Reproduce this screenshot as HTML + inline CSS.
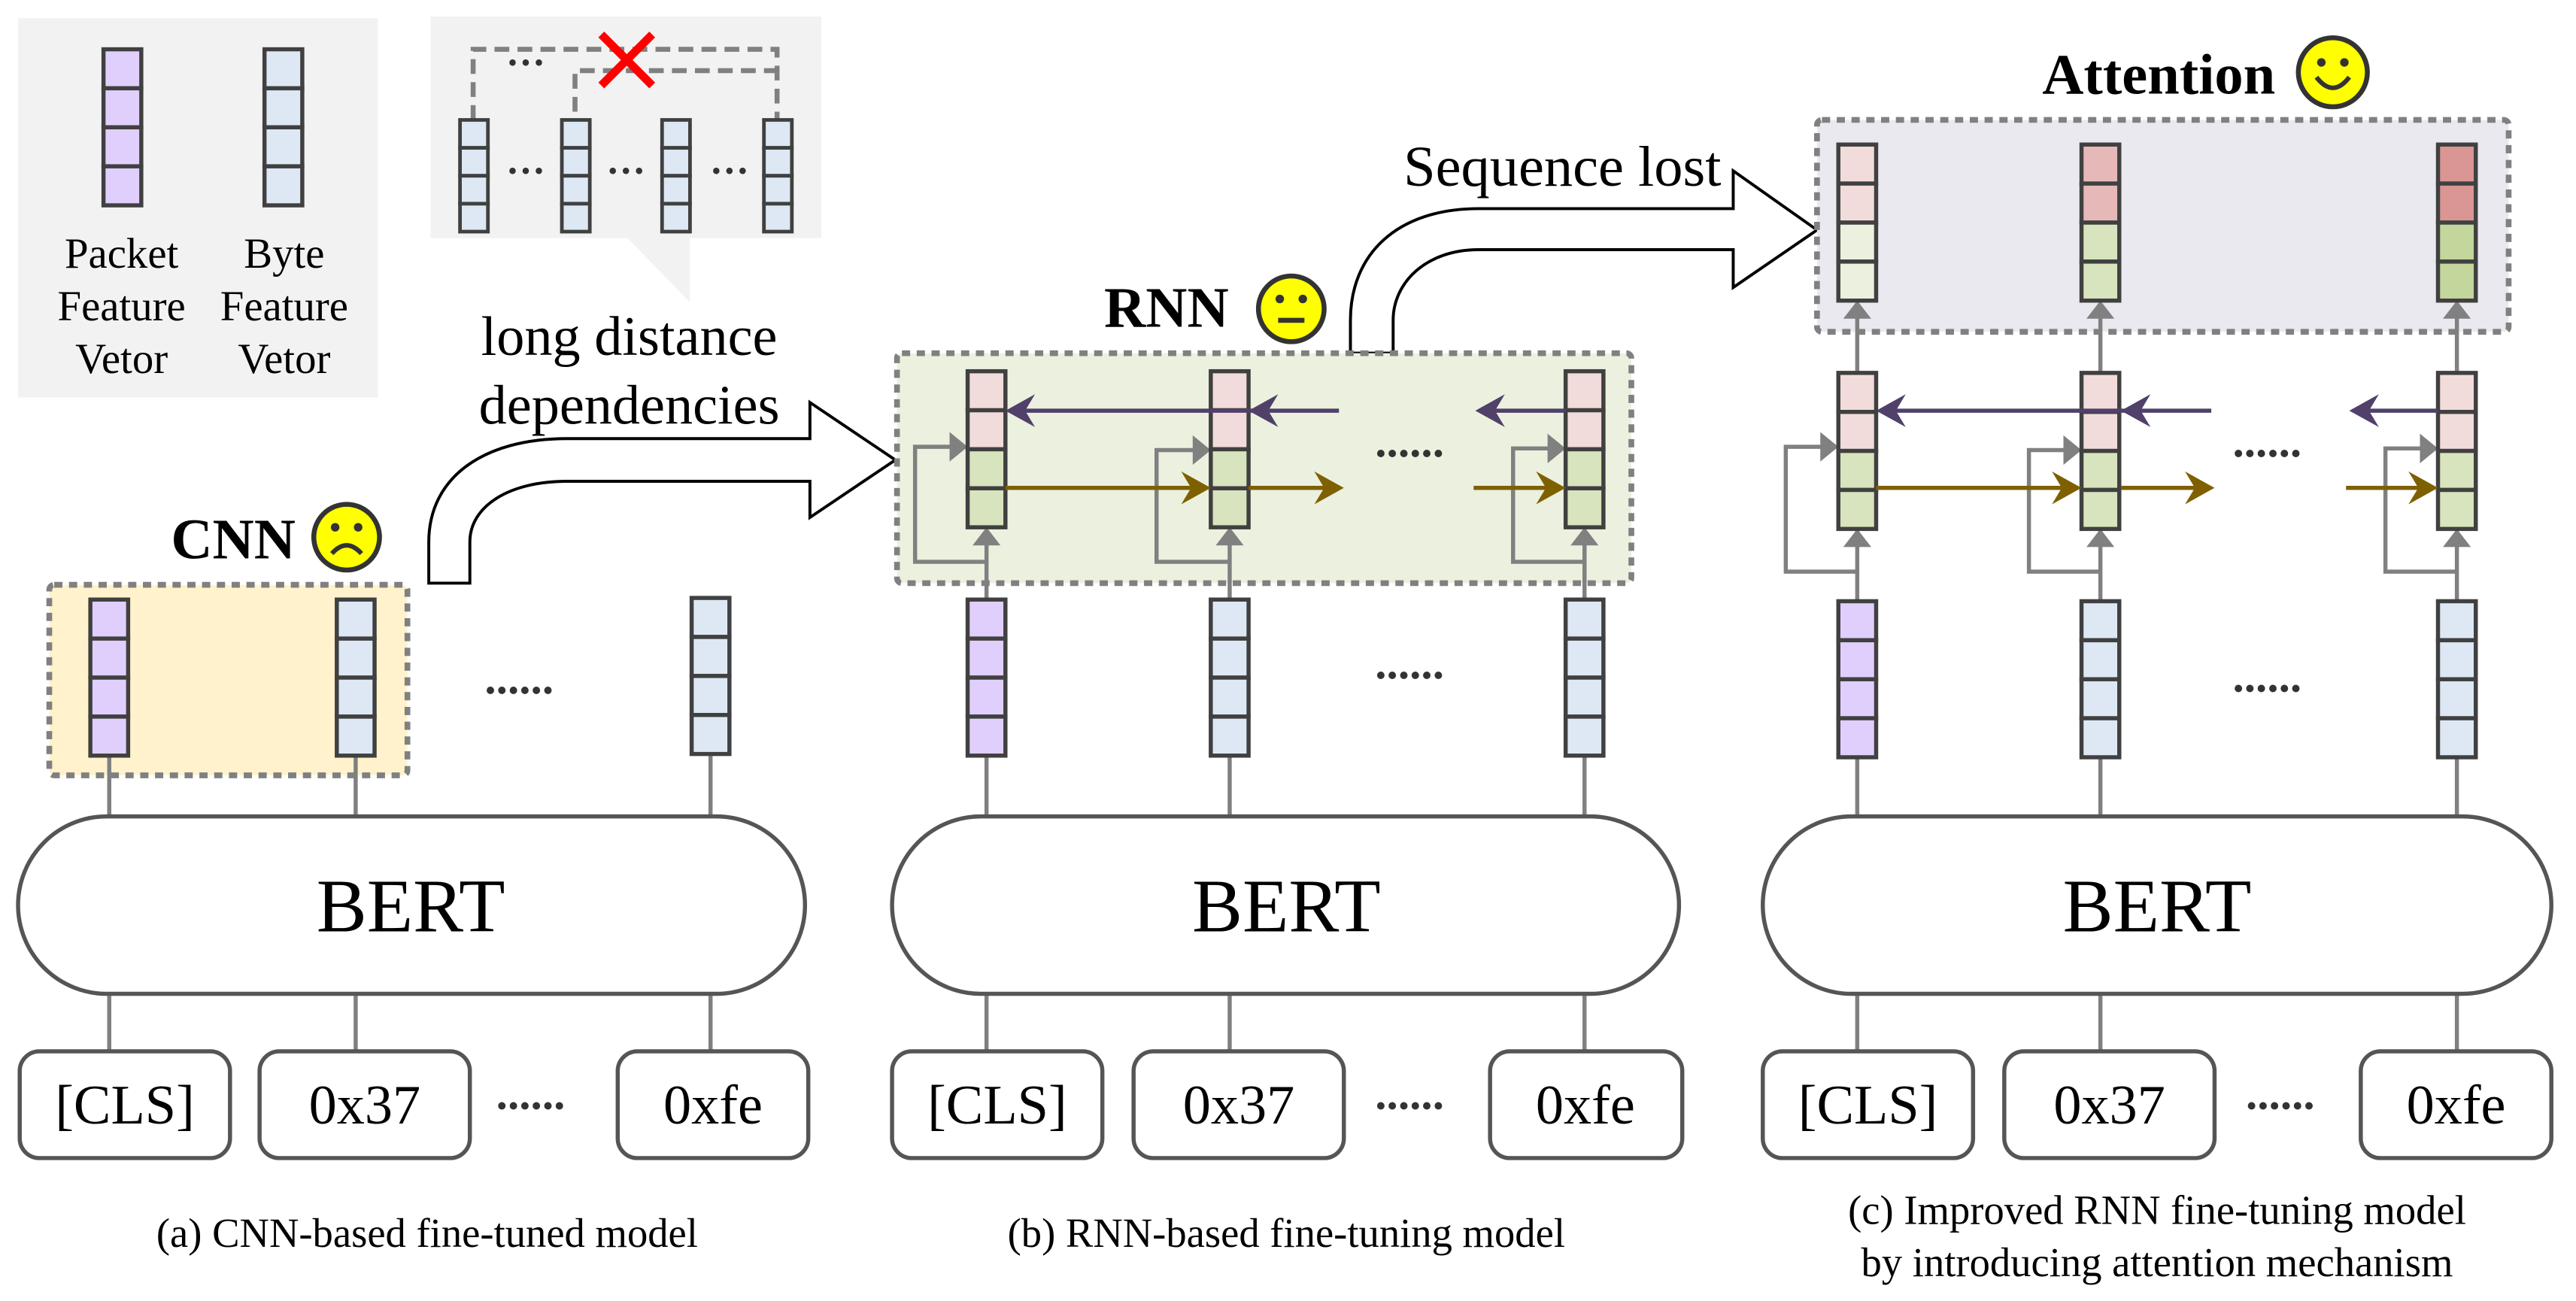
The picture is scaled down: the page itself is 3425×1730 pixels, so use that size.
<!DOCTYPE html>
<html><head><meta charset="utf-8"><style>html,body{margin:0;padding:0;background:#fff}svg{display:block}</style></head>
<body>
<svg width="3425" height="1730" viewBox="0 0 1568 792" xmlns="http://www.w3.org/2000/svg" font-family="'Liberation Serif', serif">
<defs>
<g id="pb"><rect x="0" y="0" width="23" height="23.75" fill="#e0cffc"/><rect x="0" y="23.75" width="23" height="23.75" fill="#e0cffc"/><rect x="0" y="47.5" width="23" height="23.75" fill="#e0cffc"/><rect x="0" y="71.25" width="23" height="23.75" fill="#e0cffc"/></g>
<g id="bb"><rect x="0" y="0" width="23" height="23.75" fill="#dde8f4"/><rect x="0" y="23.75" width="23" height="23.75" fill="#dde8f4"/><rect x="0" y="47.5" width="23" height="23.75" fill="#dde8f4"/><rect x="0" y="71.25" width="23" height="23.75" fill="#dde8f4"/></g>
<g id="rb"><rect x="0" y="0" width="23" height="23.75" fill="#f2dcdb"/><rect x="0" y="23.75" width="23" height="23.75" fill="#f2dcdb"/><rect x="0" y="47.5" width="23" height="23.75" fill="#d7e4bd"/><rect x="0" y="71.25" width="23" height="23.75" fill="#d7e4bd"/></g>
<g id="a1"><rect x="0" y="0" width="23" height="23.75" fill="#f2dcdb"/><rect x="0" y="23.75" width="23" height="23.75" fill="#f2dcdb"/><rect x="0" y="47.5" width="23" height="23.75" fill="#ebf1de"/><rect x="0" y="71.25" width="23" height="23.75" fill="#ebf1de"/></g>
<g id="a2"><rect x="0" y="0" width="23" height="23.75" fill="#e6b9b8"/><rect x="0" y="23.75" width="23" height="23.75" fill="#e6b9b8"/><rect x="0" y="47.5" width="23" height="23.75" fill="#d7e4bd"/><rect x="0" y="71.25" width="23" height="23.75" fill="#d7e4bd"/></g>
<g id="a3"><rect x="0" y="0" width="23" height="23.75" fill="#d99694"/><rect x="0" y="23.75" width="23" height="23.75" fill="#d99694"/><rect x="0" y="47.5" width="23" height="23.75" fill="#c3d69b"/><rect x="0" y="71.25" width="23" height="23.75" fill="#c3d69b"/></g>
<g id="sb"><rect x="0" y="0" width="17" height="17" fill="#dde8f4"/><rect x="0" y="17" width="17" height="17" fill="#dde8f4"/><rect x="0" y="34" width="17" height="17" fill="#dde8f4"/><rect x="0" y="51" width="17" height="17" fill="#dde8f4"/></g>
</defs>

<!-- Legend -->
<rect x="11" y="11" width="219" height="231" fill="#f2f2f2"/>
<g stroke="#404040" stroke-width="2.5"><use href="#pb" x="63" y="30"/><use href="#bb" x="161" y="30"/></g>
<g font-size="26" text-anchor="middle" fill="#000">
<text x="74" y="163">Packet</text><text x="74" y="195">Feature</text><text x="74" y="227">Vetor</text>
<text x="173" y="163">Byte</text><text x="173" y="195">Feature</text><text x="173" y="227">Vetor</text>
</g>

<!-- Callout -->
<rect x="262" y="10" width="238" height="135" fill="#f2f2f2"/>
<polygon points="381,144 420,144 420,184" fill="#f2f2f2"/>
<g stroke="#808080" stroke-width="3" fill="none" stroke-dasharray="9 5">
<path d="M288,73 V30 H473 V73"/>
<path d="M350,68 V43 H473"/>
</g>
<text x="320" y="46" font-size="24" font-weight="bold" text-anchor="middle" fill="#333">···</text>
<g stroke="#404040" stroke-width="2.2"><use href="#sb" x="280" y="73"/><use href="#sb" x="342" y="73"/><use href="#sb" x="403" y="73"/><use href="#sb" x="465" y="73"/></g>
<g font-size="24" font-weight="bold" text-anchor="middle" fill="#333"><text x="320" y="112">···</text><text x="381" y="112">···</text><text x="444" y="112">···</text></g>
<g stroke="#ff0000" stroke-width="5"><line x1="366" y1="21" x2="397" y2="52"/><line x1="397" y1="21" x2="366" y2="52"/></g>

<!-- long distance arrow -->
<text x="383" y="216" font-size="34" text-anchor="middle">long distance</text>
<text x="383" y="258" font-size="34" text-anchor="middle">dependencies</text>
<path d="M261,355 L261,330 C261,290 295,267 345,267 L493,267 L493,245 L545,280 L493,315 L493,293 L345,293 C310,293 286,308 286,330 L286,355 Z" fill="#fff" stroke="#000" stroke-width="1.8"/>

<!-- CNN -->
<text x="142" y="340" font-size="35" font-weight="bold" text-anchor="middle">CNN</text>
<circle cx="211" cy="327" r="20" fill="#ffff00" stroke="#333" stroke-width="3"/>
<circle cx="204" cy="321" r="2.6" fill="#333"/><circle cx="218" cy="321" r="2.6" fill="#333"/>
<path d="M202,337 Q211,327 220,337" fill="none" stroke="#333" stroke-width="2.8"/>
<rect x="30" y="356" width="218" height="116" rx="3" fill="#fff2cc" stroke="#808080" stroke-width="3.5" stroke-dasharray="5 4"/>

<!-- Sequence lost arrow -->
<text x="951" y="113" font-size="35" text-anchor="middle">Sequence lost</text>
<path d="M822,215 L822,195 C822,155 850,127 900,127 L1055,127 L1055,104 L1106,140 L1055,175 L1055,152 L900,152 C868,152 848,172 848,195 L848,215 Z" fill="#fff" stroke="#000" stroke-width="1.8"/>

<!-- RNN -->
<text x="710" y="199" font-size="35" font-weight="bold" text-anchor="middle">RNN</text>
<circle cx="786" cy="188" r="20" fill="#ffff00" stroke="#333" stroke-width="3"/>
<circle cx="779" cy="182" r="2.6" fill="#333"/><circle cx="793" cy="182" r="2.6" fill="#333"/>
<line x1="778" y1="195" x2="794" y2="195" stroke="#333" stroke-width="3"/>
<rect x="546" y="215" width="447" height="140" rx="3" fill="#ebf1de" stroke="#808080" stroke-width="3.5" stroke-dasharray="5 4"/>

<!-- Attention -->
<text x="1314" y="57" font-size="35" font-weight="bold" text-anchor="middle">Attention</text>
<circle cx="1420" cy="44" r="21" fill="#ffff00" stroke="#333" stroke-width="3"/>
<circle cx="1413" cy="38" r="2.6" fill="#333"/><circle cx="1427" cy="38" r="2.6" fill="#333"/>
<path d="M1410,47 Q1420,60 1430,47" fill="none" stroke="#333" stroke-width="2.8"/>
<rect x="1106" y="73" width="421" height="129" rx="3" fill="#ebe9f0" stroke="#808080" stroke-width="3.5" stroke-dasharray="5 4"/>

<!-- gray stems -->
<g stroke="#808080" stroke-width="2.5" fill="none">
<line x1="66.5" y1="460" x2="66.5" y2="497"/><line x1="216.5" y1="460" x2="216.5" y2="497"/><line x1="432.5" y1="458" x2="432.5" y2="497"/>
<line x1="66.5" y1="605" x2="66.5" y2="640"/><line x1="216.5" y1="605" x2="216.5" y2="640"/><line x1="432.5" y1="605" x2="432.5" y2="640"/>
<line x1="600.5" y1="330" x2="600.5" y2="497"/><line x1="748.5" y1="330" x2="748.5" y2="497"/><line x1="964.5" y1="330" x2="964.5" y2="497"/>
<line x1="600.5" y1="605" x2="600.5" y2="640"/><line x1="748.5" y1="605" x2="748.5" y2="640"/><line x1="964.5" y1="605" x2="964.5" y2="640"/>
<path d="M600.5,342 H557 V272 H580"/><path d="M748.5,342 H704 V274 H728"/><path d="M964.5,342 H921 V273 H944"/>
<line x1="1130.5" y1="192" x2="1130.5" y2="497"/><line x1="1278.5" y1="192" x2="1278.5" y2="497"/><line x1="1495.5" y1="192" x2="1495.5" y2="497"/>
<line x1="1130.5" y1="605" x2="1130.5" y2="640"/><line x1="1278.5" y1="605" x2="1278.5" y2="640"/><line x1="1495.5" y1="605" x2="1495.5" y2="640"/>
<path d="M1130.5,348 H1087 V272 H1110"/><path d="M1278.5,348 H1235 V274 H1258"/><path d="M1495.5,348 H1452 V273 H1475"/>
</g>
<g fill="#808080">
<path d="M600.5,321 L592,332 L609,332 Z"/><path d="M748.5,321 L740,332 L757,332 Z"/><path d="M964.5,321 L956,332 L973,332 Z"/>
<path d="M589,272 L578,263 L578,281 Z"/><path d="M737,274 L726,265 L726,283 Z"/><path d="M953,273 L942,264 L942,282 Z"/>
<path d="M1130.5,322 L1122,333 L1139,333 Z"/><path d="M1278.5,322 L1270,333 L1287,333 Z"/><path d="M1495.5,322 L1487,333 L1504,333 Z"/>
<path d="M1130.5,183 L1122,194 L1139,194 Z"/><path d="M1278.5,183 L1270,194 L1287,194 Z"/><path d="M1495.5,183 L1487,194 L1504,194 Z"/>
<path d="M1119,272 L1108,263 L1108,281 Z"/><path d="M1267,274 L1256,265 L1256,283 Z"/><path d="M1484,273 L1473,264 L1473,282 Z"/>
</g>

<!-- bars -->
<g stroke="#404040" stroke-width="2.5">
<use href="#pb" x="55" y="365"/><use href="#bb" x="205" y="365"/><use href="#bb" x="421" y="364"/>
<use href="#pb" x="589" y="365"/><use href="#bb" x="737" y="365"/><use href="#bb" x="953" y="365"/>
<use href="#rb" x="589" y="226"/><use href="#rb" x="737" y="226"/><use href="#rb" x="953" y="226"/>
<use href="#pb" x="1119" y="366"/><use href="#bb" x="1267" y="366"/><use href="#bb" x="1484" y="366"/>
<use href="#rb" x="1119" y="227"/><use href="#rb" x="1267" y="227"/><use href="#rb" x="1484" y="227"/>
<use href="#a1" x="1119" y="88"/><use href="#a2" x="1267" y="88"/><use href="#a3" x="1484" y="88"/>
</g>

<!-- purple / brown arrows -->
<g stroke-width="2.5">
<line x1="815" y1="250" x2="620" y2="250" stroke="#50406a"/>
<line x1="953" y1="250" x2="905" y2="250" stroke="#50406a"/>
<line x1="612" y1="297" x2="730" y2="297" stroke="#7f6000"/>
<line x1="760" y1="297" x2="812" y2="297" stroke="#7f6000"/>
<line x1="897" y1="297" x2="946" y2="297" stroke="#7f6000"/>
<line x1="1346" y1="250" x2="1150" y2="250" stroke="#50406a"/>
<line x1="1484" y1="250" x2="1436" y2="250" stroke="#50406a"/>
<line x1="1142" y1="297" x2="1260" y2="297" stroke="#7f6000"/>
<line x1="1291" y1="297" x2="1342" y2="297" stroke="#7f6000"/>
<line x1="1428" y1="297" x2="1477" y2="297" stroke="#7f6000"/>
</g>
<g fill="#50406a">
<path d="M612,250 L630,240 L624,250 L630,260 Z"/><path d="M760,250 L778,240 L772,250 L778,260 Z"/><path d="M898,250 L916,240 L910,250 L916,260 Z"/>
<path d="M1142,250 L1160,240 L1154,250 L1160,260 Z"/><path d="M1291,250 L1309,240 L1303,250 L1309,260 Z"/><path d="M1430,250 L1448,240 L1442,250 L1448,260 Z"/>
</g>
<g fill="#7f6000">
<path d="M737,297 L719,287 L725,297 L719,307 Z"/><path d="M818,297 L800,287 L806,297 L800,307 Z"/><path d="M953,297 L935,287 L941,297 L935,307 Z"/>
<path d="M1267,297 L1249,287 L1255,297 L1249,307 Z"/><path d="M1348,297 L1330,287 L1336,297 L1330,307 Z"/><path d="M1484,297 L1466,287 L1472,297 L1466,307 Z"/>
</g>

<!-- dots -->
<g font-size="28" font-weight="bold" text-anchor="middle" fill="#333">
<text x="316" y="422">......</text><text x="858" y="413">......</text><text x="858" y="278">......</text>
<text x="1380" y="278">......</text><text x="1380" y="421">......</text>
<text x="323" y="675">......</text><text x="858" y="675">......</text><text x="1388" y="675">......</text>
</g>

<!-- BERT -->
<g fill="#fff" stroke="#555" stroke-width="2.5">
<rect x="11" y="497" width="479" height="108" rx="54"/>
<rect x="543" y="497" width="479" height="108" rx="54"/>
<rect x="1073" y="497" width="480" height="108" rx="54"/>
<rect x="12" y="640" width="128" height="65" rx="12"/><rect x="158" y="640" width="128" height="65" rx="12"/><rect x="376" y="640" width="116" height="65" rx="12"/>
<rect x="543" y="640" width="128" height="65" rx="12"/><rect x="690" y="640" width="128" height="65" rx="12"/><rect x="907" y="640" width="117" height="65" rx="12"/>
<rect x="1073" y="640" width="128" height="65" rx="12"/><rect x="1220" y="640" width="128" height="65" rx="12"/><rect x="1437" y="640" width="116" height="65" rx="12"/>
</g>
<g font-size="46" text-anchor="middle"><text x="250" y="567">BERT</text><text x="783" y="567">BERT</text><text x="1313" y="567">BERT</text></g>
<g font-size="34" text-anchor="middle">
<text x="76" y="684">[CLS]</text><text x="222" y="684">0x37</text><text x="434" y="684">0xfe</text>
<text x="607" y="684">[CLS]</text><text x="754" y="684">0x37</text><text x="965" y="684">0xfe</text>
<text x="1137" y="684">[CLS]</text><text x="1284" y="684">0x37</text><text x="1495" y="684">0xfe</text>
</g>
<g font-size="25" text-anchor="middle">
<text x="260" y="759">(a) CNN-based fine-tuned model</text>
<text x="783" y="759">(b) RNN-based fine-tuning model</text>
<text x="1313" y="745">(c)  Improved RNN fine-tuning model</text>
<text x="1313" y="777">by introducing attention mechanism</text>
</g>
</svg>
</body></html>
